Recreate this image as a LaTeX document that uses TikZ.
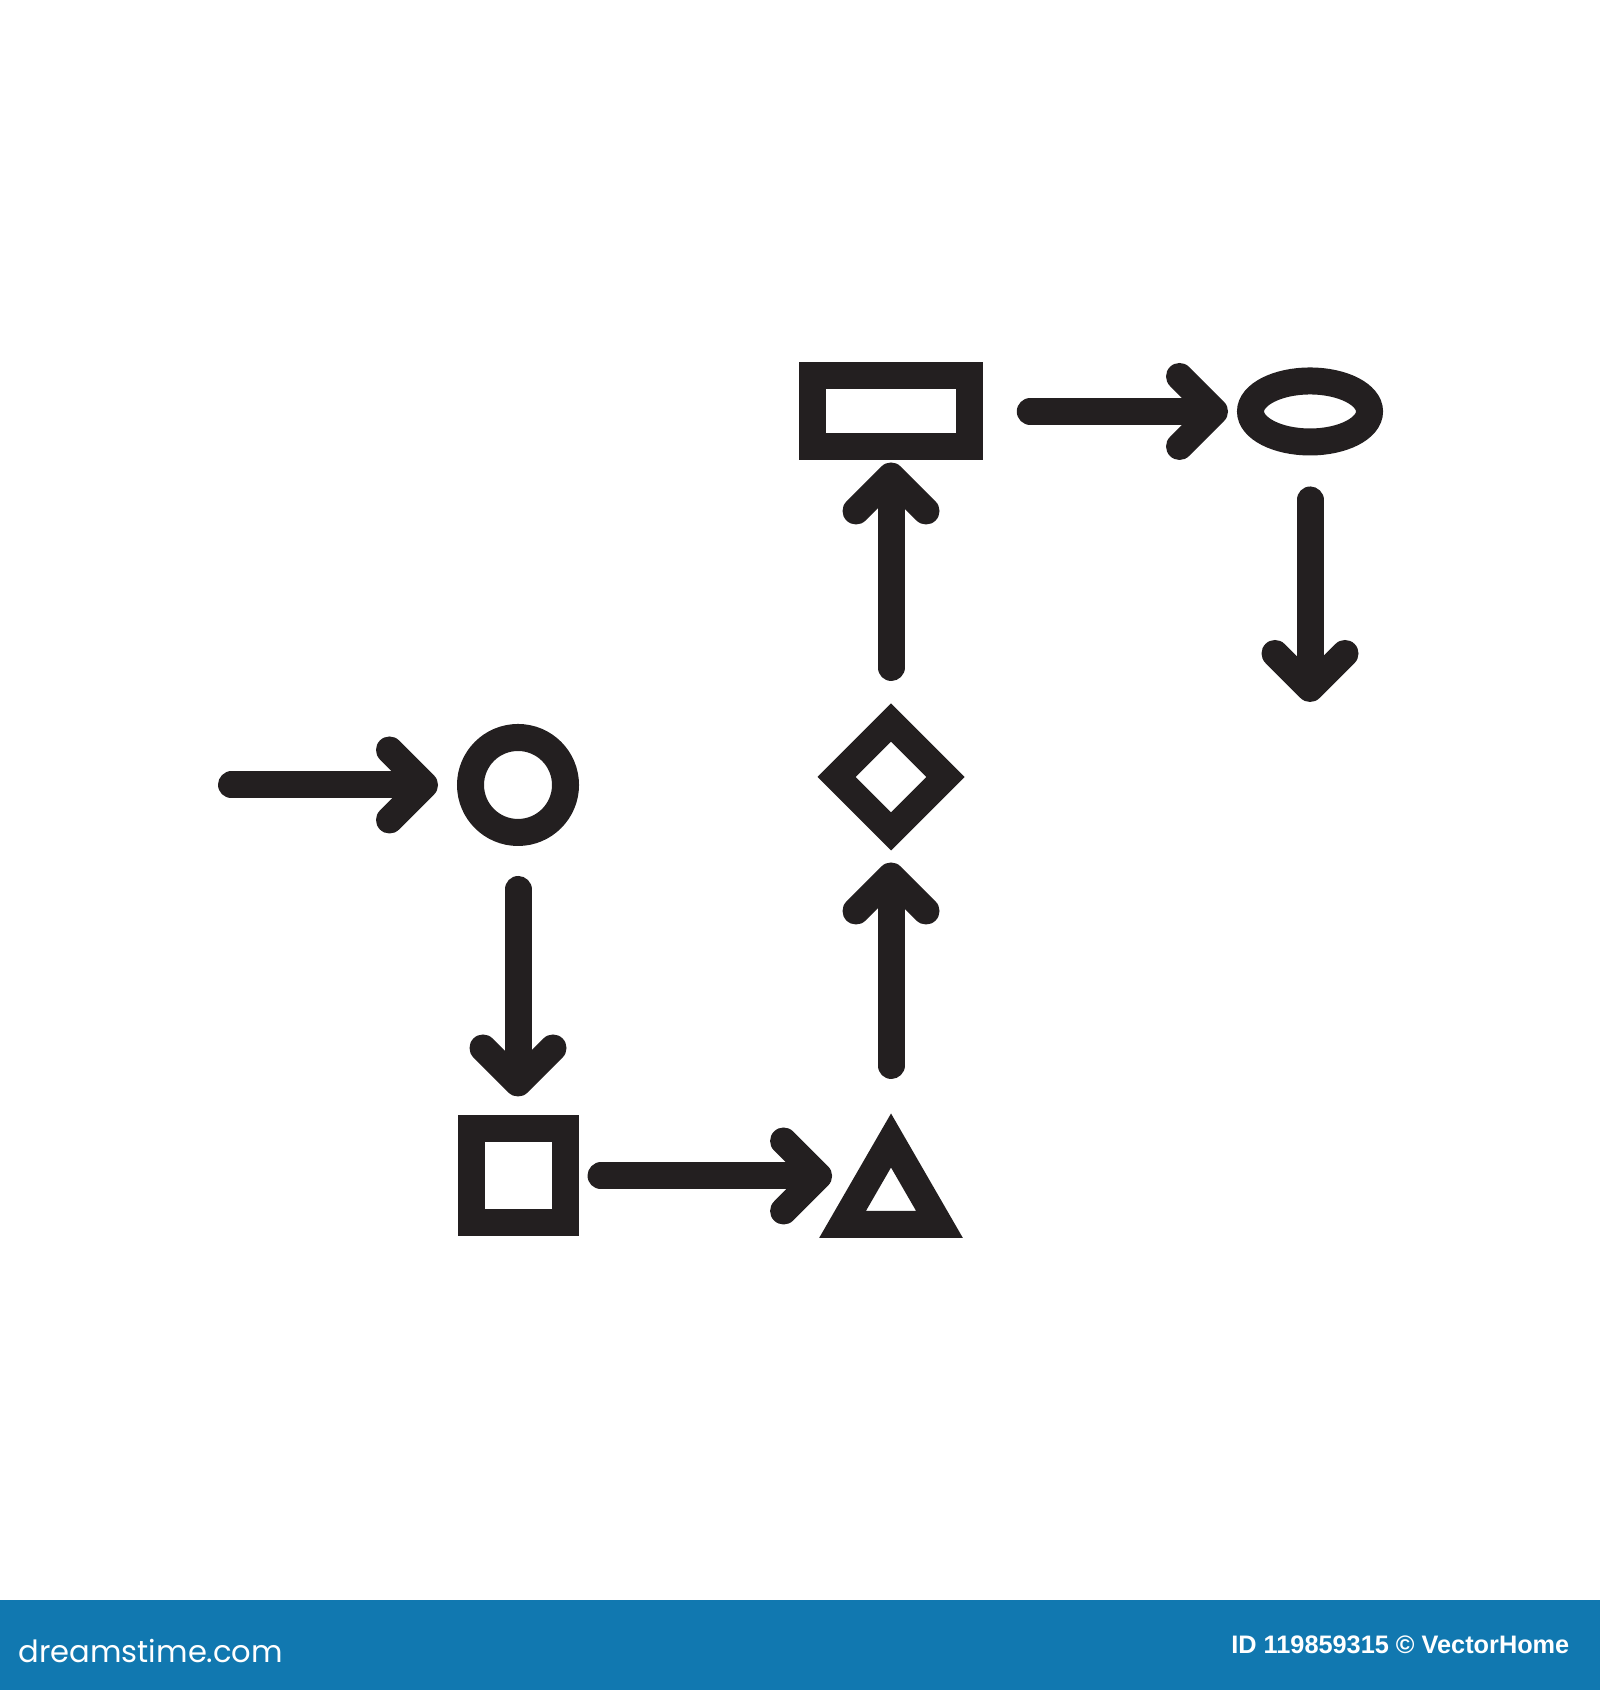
\documentclass[tikz,border=0pt]{standalone}
\usepackage{fontspec}
\usepackage{tikz}
\usetikzlibrary{shapes.geometric,arrows.meta,calc}
\newfontfamily\logofont{Poppins}
\newfontfamily\idfont{Liberation Sans}
\definecolor{iconblack}{RGB}{35,31,32}
\definecolor{bannerblue}{RGB}{17,120,176}
\tikzset{
    shapeline/.style={draw=iconblack, line width=0.27cm, inner sep=0pt},
    flow/.style={draw=iconblack, line width=0.27cm, line cap=round, -{Straight Barb[round,length=0.35cm,width=0.70cm]}}
}

\begin{document}
\begin{tikzpicture}
    \useasboundingbox (0,0) rectangle (16,16.9);

    % Banner
    \fill[bannerblue] (0,0) rectangle (16,0.9);
    \node[anchor=base west, inner sep=0pt, text=white, font=\logofont\fontsize{8.7}{10}\selectfont] (logo) at (0.18,0.27) {dreamstime.com};
    \node[anchor=base east, inner sep=0pt, text=white, font=\idfont\bfseries\fontsize{7.2}{8}\selectfont] (credit) at (15.70,0.37) {ID 119859315 \textcopyright{} VectorHome};

    % Flow shapes
    \node[shapeline, circle, minimum size=0.95cm] (circ) at (5.18,9.05) {};
    \node[shapeline, rectangle, minimum size=0.94cm] (sq) at (5.18,5.14) {};
    \node[shapeline, regular polygon, regular polygon sides=3, minimum size=1.12cm] (tri) at (8.91,4.935) {};
    \node[shapeline, diamond, minimum width=1.20cm, minimum height=1.20cm] (dia) at (8.91,9.13) {};
    \node[shapeline, rectangle, minimum width=1.565cm, minimum height=0.71cm] (rect) at (8.91,12.785) {};
    \node[shapeline, ellipse, minimum width=1.19cm, minimum height=0.61cm] (ell) at (13.10,12.785) {};

    % Free ends
    \coordinate (in) at (2.315,9.05);
    \coordinate (out) at (13.10,9.88);

    % Arrows
    \draw[flow, shorten >=0.19cm] (in) -- (circ.west);
    \draw[flow, shorten <=0.435cm, shorten >=0.19cm] (circ.south) -- (sq.north);
    \draw[flow, shorten <=0.225cm, shorten >=0.11cm] (sq.east) -- (tri.west |- sq.east);
    \draw[flow, shorten <=0.48cm, shorten >=0.12cm] (tri.north) -- (dia.south);
    \draw[flow, shorten <=0.36cm, shorten >=0.02cm] (dia.north) -- (rect.south);
    \draw[flow, shorten <=0.475cm, shorten >=0.09cm] (rect.east) -- (ell.west);
    \draw[flow, shorten <=0.445cm] (ell.south) -- (out);
\end{tikzpicture}
\end{document}
